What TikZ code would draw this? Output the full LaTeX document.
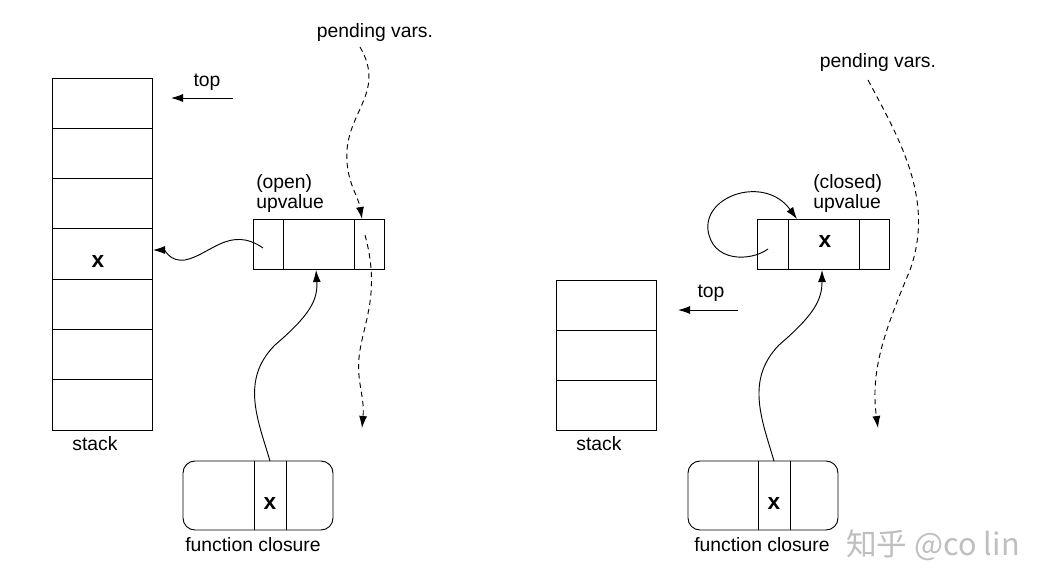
\documentclass[tikz,border=0pt]{standalone}
\usepackage{fontspec}
\setmainfont{Liberation Sans}
\newfontfamily\cjk{Noto Sans CJK SC}
\usetikzlibrary{arrows.meta}
\begin{document}
\begin{tikzpicture}[x=0.75pt,y=-0.75pt,
  box/.style={draw,line width=0.7pt},
  lbl/.style={font=\fontsize{14.5}{15}\selectfont,inner sep=0pt,align=left},
  bx/.style={font=\fontsize{17}{17}\selectfont\bfseries,inner sep=0pt},
  arr/.style={line width=0.7pt,-{Latex[length=9pt,width=6pt]}},
  darr/.style={arr,dash pattern=on 4pt off 3pt}]
\useasboundingbox (0,0) rectangle (1049,587);
% ---------- left ----------
\foreach \i in {0,...,6}{\draw[box] (52,{78+\i*50.3}) rectangle (152,{78+(\i+1)*50.3});}
\node[bx] (lx) at (98,262) {x};
\coordinate (lxe) at (153,250);
\node[lbl] (ltop) at (207,82) {top};
\coordinate (ltopS) at (233,98); \coordinate (ltopE) at (171,98);
\draw[arr] (ltopS) -- (ltopE);
\node[lbl] (lstack) at (95,444) {stack};
% upvalue
\draw[box] (253,219) rectangle (384,269);
\draw[box] (283,219) -- (283,269); \draw[box] (354,219) -- (354,269);
\coordinate (luv1) at (263,248); \coordinate (luv2) at (316,270); \coordinate (luv3) at (362,219);
\node[lbl,anchor=west] (lopen) at (256,193) {(open)\\upvalue};
\draw[arr] (luv1) .. controls (230,225) and (210,255) .. (185,260) .. controls (170,262) and (165,250) .. (lxe);
% closure
\draw[box,rounded corners=9pt] (183,461) rectangle (333,530);
\draw[box] (254,461) -- (254,530); \draw[box] (286,461) -- (286,530);
\node[bx] (lcx) at (270,503) {x};
\coordinate (lcxt) at (270,461);
\node[lbl] (lfc) at (253,545) {function closure};
\draw[arr] (lcxt) .. controls (258,420) and (240,380) .. (275,345) .. controls (310,315) and (318,300) .. (luv2);
% pending
\node[lbl] (lpend) at (375,32) {pending vars.};
\coordinate (lp0) at (360,47); \coordinate (lpend2) at (362,428);
\draw[darr] (lp0) .. controls (385,90) and (350,110) .. (347,150) .. controls (345,180) and (358,195) .. (luv3);
\draw[darr] (365,235) .. controls (380,290) and (365,320) .. (360,350) .. controls (355,380) and (365,395) .. (lpend2);
% ---------- right ----------
\foreach \i in {0,...,2}{\draw[box] (556,{280+\i*50}) rectangle (656,{280+(\i+1)*50});}
\node[lbl] (rtop) at (711,293) {top};
\coordinate (rtopS) at (738,310); \coordinate (rtopE) at (678,310);
\draw[arr] (rtopS) -- (rtopE);
\node[lbl] (rstack) at (599,444) {stack};
\draw[box] (757,219) rectangle (889,269);
\draw[box] (788,219) -- (788,269); \draw[box] (859,219) -- (859,269);
\node[bx] (rx) at (825,242) {x};
\coordinate (ruv1) at (768,249); \coordinate (ruv2a) at (797,219); \coordinate (ruv2) at (822,270);
\node[lbl,anchor=west] (rclosed) at (813,193) {(closed)\\upvalue};
\draw[arr] (ruv1) .. controls (750,262) and (712,262) .. (708,230) .. controls (704,195) and (765,175) .. (ruv2a);
\draw[box,rounded corners=9pt] (688,461) rectangle (838,530);
\draw[box] (758,461) -- (758,530); \draw[box] (790,461) -- (790,530);
\node[bx] (rcx) at (774,503) {x};
\coordinate (rcxt) at (774,461);
\node[lbl] (rfc) at (762,545) {function closure};
\draw[arr] (rcxt) .. controls (762,420) and (745,380) .. (779,345) .. controls (814,315) and (822,300) .. (ruv2);
\node[lbl] (rpend) at (878,62) {pending vars.};
\coordinate (rp0) at (868,80); \coordinate (rpend2) at (878,428);
\draw[darr] (rp0) .. controls (900,140) and (935,200) .. (910,270) .. controls (885,330) and (870,370) .. (rpend2);
% watermark
\node[font=\cjk\fontsize{23}{23}\selectfont,text=black!25,inner sep=0pt] (wm) at (933,545) {知乎 @co lin};
\end{tikzpicture}
\end{document}
